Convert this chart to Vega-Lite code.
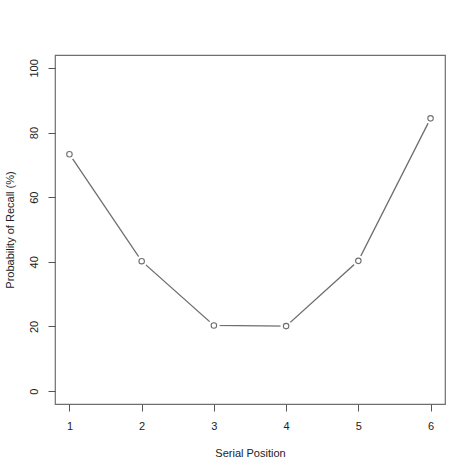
{
  "$schema": "https://vega.github.io/schema/vega-lite/v6.json",
  "width": 390,
  "height": 349,
  "autosize": {"type": "none"},
  "padding": {"left": 55, "top": 55, "right": 29, "bottom": 70},
  "background": "white",
  "config": {
    "font": "Liberation Sans",
    "view": {"stroke": "#6e6e6e", "strokeWidth": 1.2}
  },
  "data": {
    "values": [
      {"pos": 1, "recall": 73.3},
      {"pos": 2, "recall": 40.2},
      {"pos": 3, "recall": 20.3},
      {"pos": 4, "recall": 20.1},
      {"pos": 5, "recall": 40.3},
      {"pos": 6, "recall": 84.4}
    ]
  },
  "encoding": {
    "x": {
      "field": "pos",
      "type": "quantitative",
      "scale": {"domain": [0.8, 6.2], "nice": false, "zero": false},
      "axis": {
        "title": "Serial Position",
        "values": [1, 2, 3, 4, 5, 6],
        "format": "d",
        "grid": false,
        "domain": false,
        "tickColor": "#555",
        "tickSize": 7,
        "tickWidth": 1,
        "labelPadding": 9,
        "labelFontSize": 11,
        "labelColor": "#222",
        "titleFontSize": 11,
        "titleFontWeight": "normal",
        "titleColor": "#222",
        "titleY": 49,
        "titleBaseline": "middle"
      }
    },
    "y": {
      "field": "recall",
      "type": "quantitative",
      "scale": {"domain": [-4, 104], "nice": false, "zero": false},
      "axis": {
        "title": "Probability of Recall (%)",
        "values": [0, 20, 40, 60, 80, 100],
        "grid": false,
        "domain": false,
        "tickColor": "#555",
        "tickSize": 7,
        "tickWidth": 1,
        "labelAngle": -90,
        "labelAlign": "center",
        "labelBaseline": "bottom",
        "labelPadding": 9,
        "labelFontSize": 11,
        "labelColor": "#222",
        "titleFontSize": 11,
        "titleFontWeight": "normal",
        "titleColor": "#222",
        "titleAngle": -90,
        "titleX": -45,
        "titleBaseline": "middle",
        "titleAlign": "center"
      }
    }
  },
  "layer": [
    {"mark": {"type": "line", "color": "#6e6e6e", "strokeWidth": 1.3}},
    {"mark": {"type": "point", "shape": "circle", "filled": true, "color": "white", "opacity": 1, "size": 130}},
    {"mark": {"type": "point", "shape": "circle", "filled": false, "stroke": "#6e6e6e", "fill": "white", "fillOpacity": 1, "opacity": 1, "strokeWidth": 1.1, "size": 30}}
  ]
}
